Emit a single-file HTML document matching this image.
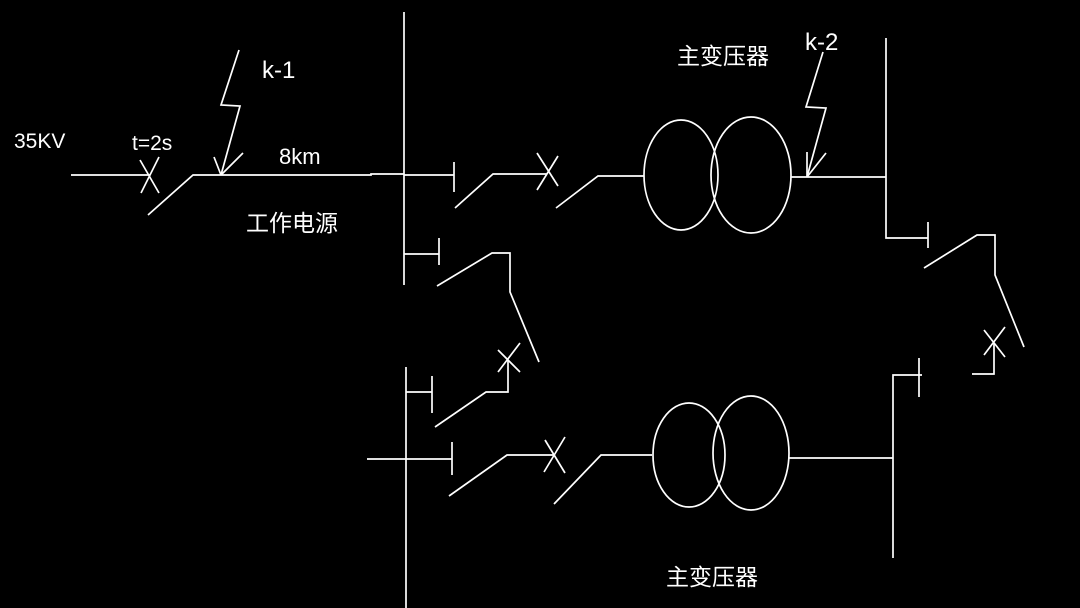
<!DOCTYPE html>
<html><head><meta charset="utf-8"><style>
html,body{margin:0;padding:0;background:#000;}
svg{display:block}
text{fill:#fff;font-family:"Liberation Sans","Noto Sans CJK SC",sans-serif;}
.lat{font-weight:300;}
</style></head><body>
<svg width="1080" height="608" viewBox="0 0 1080 608" xmlns="http://www.w3.org/2000/svg">
<rect width="1080" height="608" fill="#000"/>
<g stroke="#fff" stroke-width="1.7" fill="none">
<polyline points="71,175 150,175"/>
<line x1="140" y1="160" x2="159" y2="193"/><line x1="159" y1="157" x2="141" y2="193"/>
<polyline points="148,215 193,175 371,175 371,174 404,174"/>
<polyline points="239,50 221,105 240,106 221,175"/>
<line x1="221" y1="175" x2="214" y2="157"/><line x1="221" y1="175" x2="243" y2="153"/>
<line x1="404" y1="12" x2="404" y2="285"/>
<line x1="406" y1="367" x2="406" y2="608"/>
<line x1="404" y1="175" x2="454" y2="175"/><line x1="454" y1="162" x2="454" y2="192"/>
<polyline points="455,208 493,174 547,174"/>
<line x1="537" y1="190" x2="558" y2="156"/><line x1="537" y1="153" x2="558" y2="186"/>
<polyline points="556,208 598,176 644,176"/>
<ellipse cx="681" cy="175" rx="37" ry="55"/>
<ellipse cx="751" cy="175" rx="40" ry="58"/>
<polyline points="791,177 886,177"/>
<polyline points="886,38 886,238 928,238"/><line x1="928" y1="222" x2="928" y2="248"/>
<polyline points="924,268 977,235 995,235 995,275 1024,347"/>
<line x1="984" y1="330" x2="1005" y2="357"/><line x1="1005" y1="327" x2="984" y2="355"/>
<polyline points="994,343 994,374 972,374"/>
<polyline points="823,52 806,107 826,108 807,177"/>
<line x1="807" y1="177" x2="826" y2="153"/><line x1="807" y1="177" x2="807" y2="152"/>
<line x1="404" y1="254" x2="439" y2="254"/><line x1="439" y1="238" x2="439" y2="265"/>
<polyline points="437,286 492,253 510,253 510,292 539,362"/>
<line x1="498" y1="372" x2="520" y2="343"/><line x1="498" y1="350" x2="520" y2="372"/>
<polyline points="508,360 508,392 486,392 435,427"/>
<line x1="406" y1="392" x2="432" y2="392"/><line x1="432" y1="376" x2="432" y2="413"/>
<line x1="367" y1="459" x2="452" y2="459"/><line x1="452" y1="442" x2="452" y2="475"/>
<polyline points="449,496 507,455 554,455"/>
<line x1="545" y1="440" x2="565" y2="473"/><line x1="565" y1="437" x2="544" y2="472"/>
<polyline points="554,504 601,455 652,455"/>
<ellipse cx="689" cy="455" rx="36" ry="52"/>
<ellipse cx="751" cy="453" rx="38" ry="57"/>
<line x1="789" y1="458" x2="893" y2="458"/>
<polyline points="893,558 893,375 922,375"/><line x1="919" y1="358" x2="919" y2="397"/>
</g>
<text class="lat" x="14" y="148" font-size="21">35KV</text>
<text class="lat" x="132" y="150" font-size="21">t=2s</text>
<text class="lat" x="262" y="78" font-size="24">k-1</text>
<text class="lat" x="279" y="164" font-size="22">8km</text>
<text x="246" y="231" font-size="23">工作电源</text>
<text x="677" y="64" font-size="23">主变压器</text>
<text class="lat" x="805" y="50" font-size="24">k-2</text>
<text x="666" y="585" font-size="23">主变压器</text>
</svg>
</body></html>
